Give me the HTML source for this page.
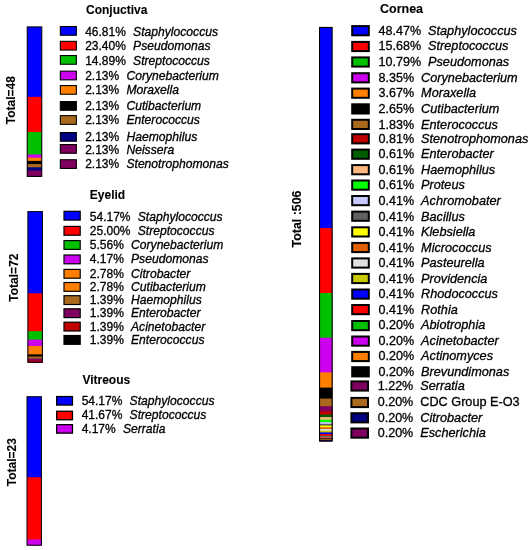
<!DOCTYPE html>
<html><head><meta charset="utf-8"><style>
html,body{margin:0;padding:0;background:#fff;}
svg{display:block;font-family:"Liberation Sans", Arial, sans-serif;filter:blur(0.35px);}
text{stroke:#000;stroke-width:0.3px;} text[font-weight=bold]{stroke-width:0.1px;}
</style></head><body>
<svg width="530" height="550" viewBox="0 0 530 550">
<rect width="530" height="550" fill="#fff"/>
<text x="86" y="14.0" font-size="12" font-weight="bold">Conjuctiva</text>
<rect x="27.20" y="26.90" width="14.60" height="149.50" fill="#0000ff"/>
<rect x="27.20" y="96.84" width="14.60" height="79.56" fill="#ff0000"/>
<rect x="27.20" y="132.06" width="14.60" height="44.34" fill="#00c000"/>
<rect x="27.20" y="154.46" width="14.60" height="21.94" fill="#cc00ee"/>
<rect x="27.20" y="157.67" width="14.60" height="18.73" fill="#ff8000"/>
<rect x="27.20" y="160.87" width="14.60" height="15.53" fill="#000000"/>
<rect x="27.20" y="164.08" width="14.60" height="12.32" fill="#aa6a1e"/>
<rect x="27.20" y="167.28" width="14.60" height="9.12" fill="#000080"/>
<rect x="27.20" y="170.49" width="14.60" height="5.91" fill="#800060"/>
<rect x="27.20" y="173.69" width="14.60" height="2.71" fill="#800060"/>
<rect x="27.20" y="26.90" width="14.60" height="149.50" fill="none" stroke="#000" stroke-width="1.0"/>
<text transform="translate(15,100.2) rotate(-90)" text-anchor="middle" font-size="12" font-weight="bold">Total=48</text>
<rect x="60.35" y="26.55" width="16.00" height="8.70" fill="#0000ff" stroke="#000" stroke-width="1.1"/>
<text x="85.20" y="35.50" font-size="12">46.81%<tspan dx="7.2" font-size="12.14" font-style="italic">Staphylococcus</tspan></text>
<rect x="60.35" y="41.35" width="16.00" height="8.70" fill="#ff0000" stroke="#000" stroke-width="1.1"/>
<text x="85.20" y="50.20" font-size="12">23.40%<tspan dx="7.2" font-size="12.14" font-style="italic">Pseudomonas</tspan></text>
<rect x="60.35" y="55.55" width="16.00" height="8.70" fill="#00c000" stroke="#000" stroke-width="1.1"/>
<text x="85.20" y="64.50" font-size="12">14.89%<tspan dx="7.2" font-size="12.14" font-style="italic">Streptococcus</tspan></text>
<rect x="60.35" y="71.15" width="16.00" height="8.70" fill="#cc00ee" stroke="#000" stroke-width="1.1"/>
<text x="85.20" y="80.00" font-size="12">2.13%<tspan dx="7.2" font-size="12.14" font-style="italic">Corynebacterium</tspan></text>
<rect x="60.35" y="85.55" width="16.00" height="8.70" fill="#ff8000" stroke="#000" stroke-width="1.1"/>
<text x="85.20" y="94.30" font-size="12">2.13%<tspan dx="7.2" font-size="12.14" font-style="italic">Moraxella</tspan></text>
<rect x="60.35" y="101.55" width="16.00" height="8.70" fill="#000000" stroke="#000" stroke-width="1.1"/>
<text x="85.20" y="110.10" font-size="12">2.13%<tspan dx="7.2" font-size="12.14" font-style="italic">Cutibacterium</tspan></text>
<rect x="60.35" y="115.65" width="16.00" height="8.70" fill="#aa6a1e" stroke="#000" stroke-width="1.1"/>
<text x="85.20" y="124.40" font-size="12">2.13%<tspan dx="7.2" font-size="12.14" font-style="italic">Enterococcus</tspan></text>
<rect x="60.35" y="132.55" width="16.00" height="8.70" fill="#000080" stroke="#000" stroke-width="1.1"/>
<text x="85.20" y="141.00" font-size="12">2.13%<tspan dx="7.2" font-size="12.14" font-style="italic">Haemophilus</tspan></text>
<rect x="60.35" y="144.55" width="16.00" height="8.70" fill="#800060" stroke="#000" stroke-width="1.1"/>
<text x="85.20" y="153.90" font-size="12">2.13%<tspan dx="7.2" font-size="12.14" font-style="italic">Neissera</tspan></text>
<rect x="60.35" y="159.75" width="16.00" height="8.70" fill="#800060" stroke="#000" stroke-width="1.1"/>
<text x="85.20" y="168.20" font-size="12">2.13%<tspan dx="7.2" font-size="12.14" font-style="italic">Stenotrophomonas</tspan></text>
<text x="89.8" y="198.7" font-size="12" font-weight="bold">Eyelid</text>
<rect x="27.90" y="211.60" width="14.50" height="150.70" fill="#0000ff"/>
<rect x="27.90" y="293.26" width="14.50" height="69.04" fill="#ff0000"/>
<rect x="27.90" y="331.18" width="14.50" height="31.12" fill="#00c000"/>
<rect x="27.90" y="339.61" width="14.50" height="22.69" fill="#cc00ee"/>
<rect x="27.90" y="345.93" width="14.50" height="16.37" fill="#ff8000"/>
<rect x="27.90" y="350.15" width="14.50" height="12.15" fill="#ff8000"/>
<rect x="27.90" y="354.37" width="14.50" height="7.93" fill="#000000"/>
<rect x="27.90" y="356.48" width="14.50" height="5.82" fill="#aa6a1e"/>
<rect x="27.90" y="358.58" width="14.50" height="3.72" fill="#800060"/>
<rect x="27.90" y="360.69" width="14.50" height="1.61" fill="#c00000"/>
<rect x="27.90" y="211.60" width="14.50" height="150.70" fill="none" stroke="#000" stroke-width="1.0"/>
<text transform="translate(18,277.6) rotate(-90)" text-anchor="middle" font-size="12" font-weight="bold">Total=72</text>
<rect x="64.00" y="211.30" width="16.20" height="8.80" fill="#0000ff" stroke="#000" stroke-width="1.2"/>
<text x="89.80" y="220.60" font-size="12">54.17%<tspan dx="7.2" font-size="12.14" font-style="italic">Staphylococcus</tspan></text>
<rect x="64.00" y="226.40" width="16.20" height="8.80" fill="#ff0000" stroke="#000" stroke-width="1.2"/>
<text x="89.80" y="234.70" font-size="12">25.00%<tspan dx="7.2" font-size="12.14" font-style="italic">Streptococcus</tspan></text>
<rect x="64.00" y="240.60" width="16.20" height="8.80" fill="#00c000" stroke="#000" stroke-width="1.2"/>
<text x="89.80" y="248.90" font-size="12">5.56%<tspan dx="7.2" font-size="12.14" font-style="italic">Corynebacterium</tspan></text>
<rect x="64.00" y="255.00" width="16.20" height="8.80" fill="#cc00ee" stroke="#000" stroke-width="1.2"/>
<text x="89.80" y="263.00" font-size="12">4.17%<tspan dx="7.2" font-size="12.14" font-style="italic">Pseudomonas</tspan></text>
<rect x="64.00" y="269.40" width="16.20" height="8.80" fill="#ff8000" stroke="#000" stroke-width="1.2"/>
<text x="89.80" y="277.50" font-size="12">2.78%<tspan dx="7.2" font-size="12.14" font-style="italic">Citrobacter</tspan></text>
<rect x="64.00" y="282.50" width="16.20" height="8.80" fill="#ff8000" stroke="#000" stroke-width="1.2"/>
<text x="89.80" y="290.80" font-size="12">2.78%<tspan dx="7.2" font-size="12.14" font-style="italic">Cutibacterium</tspan></text>
<rect x="64.00" y="295.70" width="16.20" height="8.80" fill="#aa6a1e" stroke="#000" stroke-width="1.2"/>
<text x="89.80" y="304.20" font-size="12">1.39%<tspan dx="7.2" font-size="12.14" font-style="italic">Haemophilus</tspan></text>
<rect x="64.00" y="308.80" width="16.20" height="8.80" fill="#800060" stroke="#000" stroke-width="1.2"/>
<text x="89.80" y="317.20" font-size="12">1.39%<tspan dx="7.2" font-size="12.14" font-style="italic">Enterobacter</tspan></text>
<rect x="64.00" y="322.20" width="16.20" height="8.80" fill="#c00000" stroke="#000" stroke-width="1.2"/>
<text x="89.80" y="330.50" font-size="12">1.39%<tspan dx="7.2" font-size="12.14" font-style="italic">Acinetobacter</tspan></text>
<rect x="64.00" y="335.50" width="16.20" height="8.80" fill="#000000" stroke="#000" stroke-width="1.2"/>
<text x="89.80" y="344.30" font-size="12">1.39%<tspan dx="7.2" font-size="12.14" font-style="italic">Enterococcus</tspan></text>
<text x="82.4" y="384.2" font-size="12" font-weight="bold">Vitreous</text>
<rect x="27.00" y="396.70" width="14.40" height="148.50" fill="#0000ff"/>
<rect x="27.00" y="477.18" width="14.40" height="68.02" fill="#ff0000"/>
<rect x="27.00" y="539.47" width="14.40" height="5.73" fill="#cc00ee"/>
<rect x="27.00" y="396.70" width="14.40" height="148.50" fill="none" stroke="#000" stroke-width="1.0"/>
<text transform="translate(16,462.2) rotate(-90)" text-anchor="middle" font-size="12" font-weight="bold">Total=23</text>
<rect x="56.65" y="396.55" width="15.80" height="8.50" fill="#0000ff" stroke="#000" stroke-width="1.3"/>
<text x="81.70" y="405.30" font-size="12">54.17%<tspan dx="7.2" font-size="12.14" font-style="italic">Staphylococcus</tspan></text>
<rect x="56.65" y="411.25" width="15.80" height="8.50" fill="#ff0000" stroke="#000" stroke-width="1.3"/>
<text x="81.70" y="419.30" font-size="12">41.67%<tspan dx="7.2" font-size="12.14" font-style="italic">Streptococcus</tspan></text>
<rect x="56.65" y="424.65" width="15.80" height="8.50" fill="#cc00ee" stroke="#000" stroke-width="1.3"/>
<text x="81.70" y="432.90" font-size="12">4.17%<tspan dx="7.2" font-size="12.14" font-style="italic">Serratia</tspan></text>
<text x="380" y="13.3" font-size="12.5" font-weight="bold">Cornea</text>
<rect x="319.55" y="27.45" width="12.60" height="413.60" fill="#0000ff"/>
<rect x="319.55" y="227.95" width="12.60" height="213.10" fill="#ff0000"/>
<rect x="319.55" y="292.98" width="12.60" height="148.07" fill="#00c000"/>
<rect x="319.55" y="337.74" width="12.60" height="103.31" fill="#cc00ee"/>
<rect x="319.55" y="372.37" width="12.60" height="68.68" fill="#ff8000"/>
<rect x="319.55" y="387.60" width="12.60" height="53.45" fill="#000000"/>
<rect x="319.55" y="398.59" width="12.60" height="42.46" fill="#aa6a1e"/>
<rect x="319.55" y="406.18" width="12.60" height="34.87" fill="#800060"/>
<rect x="319.55" y="411.24" width="12.60" height="29.81" fill="#c00000"/>
<rect x="319.55" y="414.60" width="12.60" height="26.45" fill="#006000"/>
<rect x="319.55" y="417.13" width="12.60" height="23.92" fill="#ffb880"/>
<rect x="319.55" y="419.66" width="12.60" height="21.39" fill="#00ff00"/>
<rect x="319.55" y="422.19" width="12.60" height="18.86" fill="#c8c8ff"/>
<rect x="319.55" y="423.89" width="12.60" height="17.16" fill="#606060"/>
<rect x="319.55" y="425.59" width="12.60" height="15.46" fill="#ffff00"/>
<rect x="319.55" y="427.29" width="12.60" height="13.76" fill="#e06000"/>
<rect x="319.55" y="428.99" width="12.60" height="12.06" fill="#e0e0e0"/>
<rect x="319.55" y="430.69" width="12.60" height="10.36" fill="#c8c800"/>
<rect x="319.55" y="432.39" width="12.60" height="8.66" fill="#0000ff"/>
<rect x="319.55" y="434.09" width="12.60" height="6.96" fill="#ff0000"/>
<rect x="319.55" y="435.79" width="12.60" height="5.26" fill="#00c000"/>
<rect x="319.55" y="436.62" width="12.60" height="4.43" fill="#cc00ee"/>
<rect x="319.55" y="437.45" width="12.60" height="3.60" fill="#ff8000"/>
<rect x="319.55" y="438.28" width="12.60" height="2.77" fill="#000000"/>
<rect x="319.55" y="439.11" width="12.60" height="1.94" fill="#aa6a1e"/>
<rect x="319.55" y="439.94" width="12.60" height="1.11" fill="#000080"/>
<rect x="319.55" y="440.77" width="12.60" height="0.28" fill="#800060"/>
<rect x="319.55" y="27.45" width="12.60" height="413.60" fill="none" stroke="#000" stroke-width="1.1"/>
<text transform="translate(301,219) rotate(-90)" text-anchor="middle" font-size="12.4" font-weight="bold">Total :506</text>
<rect x="352.20" y="26.10" width="16.60" height="9.20" fill="#0000ff" stroke="#000" stroke-width="2.0"/>
<text x="378.50" y="35.10" font-size="12.55">48.47%<tspan dx="7.0" font-size="12.70" font-style="italic">Staphylococcus</tspan></text>
<rect x="352.20" y="41.90" width="16.60" height="9.20" fill="#ff0000" stroke="#000" stroke-width="2.0"/>
<text x="378.50" y="50.40" font-size="12.55">15.68%<tspan dx="7.0" font-size="12.70" font-style="italic">Streptococcus</tspan></text>
<rect x="352.20" y="57.40" width="16.60" height="9.20" fill="#00c000" stroke="#000" stroke-width="2.0"/>
<text x="378.50" y="66.10" font-size="12.55">10.79%<tspan dx="7.0" font-size="12.70" font-style="italic">Pseudomonas</tspan></text>
<rect x="352.20" y="73.20" width="16.60" height="9.20" fill="#cc00ee" stroke="#000" stroke-width="2.0"/>
<text x="378.50" y="82.00" font-size="12.55">8.35%<tspan dx="7.0" font-size="12.70" font-style="italic">Corynebacterium</tspan></text>
<rect x="352.20" y="88.60" width="16.60" height="9.20" fill="#ff8000" stroke="#000" stroke-width="2.0"/>
<text x="378.50" y="97.20" font-size="12.55">3.67%<tspan dx="7.0" font-size="12.70" font-style="italic">Moraxella</tspan></text>
<rect x="352.20" y="104.30" width="16.60" height="9.20" fill="#000000" stroke="#000" stroke-width="2.0"/>
<text x="378.50" y="112.90" font-size="12.55">2.65%<tspan dx="7.0" font-size="12.70" font-style="italic">Cutibacterium</tspan></text>
<rect x="352.20" y="119.80" width="16.60" height="9.20" fill="#aa6a1e" stroke="#000" stroke-width="2.0"/>
<text x="378.50" y="128.70" font-size="12.55">1.83%<tspan dx="7.0" font-size="12.70" font-style="italic">Enterococcus</tspan></text>
<rect x="352.20" y="134.20" width="16.60" height="9.20" fill="#c00000" stroke="#000" stroke-width="2.0"/>
<text x="378.50" y="142.80" font-size="12.55">0.81%<tspan dx="7.0" font-size="12.70" font-style="italic">Stenotrophomonas</tspan></text>
<rect x="352.20" y="149.60" width="16.60" height="9.20" fill="#006000" stroke="#000" stroke-width="2.0"/>
<text x="378.50" y="158.10" font-size="12.55">0.61%<tspan dx="7.0" font-size="12.70" font-style="italic">Enterobacter</tspan></text>
<rect x="352.20" y="165.10" width="16.60" height="9.20" fill="#ffb880" stroke="#000" stroke-width="2.0"/>
<text x="378.50" y="174.00" font-size="12.55">0.61%<tspan dx="7.0" font-size="12.70" font-style="italic">Haemophilus</tspan></text>
<rect x="352.20" y="180.50" width="16.60" height="9.20" fill="#00ff00" stroke="#000" stroke-width="2.0"/>
<text x="378.50" y="189.20" font-size="12.55">0.61%<tspan dx="7.0" font-size="12.70" font-style="italic">Proteus</tspan></text>
<rect x="352.20" y="196.00" width="16.60" height="9.20" fill="#c8c8ff" stroke="#000" stroke-width="2.0"/>
<text x="378.50" y="204.90" font-size="12.55">0.41%<tspan dx="7.0" font-size="12.70" font-style="italic">Achromobater</tspan></text>
<rect x="352.20" y="211.60" width="16.60" height="9.20" fill="#606060" stroke="#000" stroke-width="2.0"/>
<text x="378.50" y="220.70" font-size="12.55">0.41%<tspan dx="7.0" font-size="12.70" font-style="italic">Bacillus</tspan></text>
<rect x="352.20" y="227.30" width="16.60" height="9.20" fill="#ffff00" stroke="#000" stroke-width="2.0"/>
<text x="378.50" y="236.00" font-size="12.55">0.41%<tspan dx="7.0" font-size="12.70" font-style="italic">Klebsiella</tspan></text>
<rect x="352.20" y="242.90" width="16.60" height="9.20" fill="#e06000" stroke="#000" stroke-width="2.0"/>
<text x="378.50" y="251.70" font-size="12.55">0.41%<tspan dx="7.0" font-size="12.70" font-style="italic">Micrococcus</tspan></text>
<rect x="352.20" y="258.40" width="16.60" height="9.20" fill="#e0e0e0" stroke="#000" stroke-width="2.0"/>
<text x="378.50" y="267.30" font-size="12.55">0.41%<tspan dx="7.0" font-size="12.70" font-style="italic">Pasteurella</tspan></text>
<rect x="352.20" y="273.90" width="16.60" height="9.20" fill="#c8c800" stroke="#000" stroke-width="2.0"/>
<text x="378.50" y="282.50" font-size="12.55">0.41%<tspan dx="7.0" font-size="12.70" font-style="italic">Providencia</tspan></text>
<rect x="352.20" y="289.50" width="16.60" height="9.20" fill="#0000ff" stroke="#000" stroke-width="2.0"/>
<text x="378.50" y="298.20" font-size="12.55">0.41%<tspan dx="7.0" font-size="12.70" font-style="italic">Rhodococcus</tspan></text>
<rect x="352.20" y="305.00" width="16.60" height="9.20" fill="#ff0000" stroke="#000" stroke-width="2.0"/>
<text x="378.50" y="314.10" font-size="12.55">0.41%<tspan dx="7.0" font-size="12.70" font-style="italic">Rothia</tspan></text>
<rect x="352.20" y="321.00" width="16.60" height="9.20" fill="#00c000" stroke="#000" stroke-width="2.0"/>
<text x="378.50" y="329.40" font-size="12.55">0.20%<tspan dx="7.0" font-size="12.70" font-style="italic">Abiotrophia</tspan></text>
<rect x="352.20" y="336.50" width="16.60" height="9.20" fill="#cc00ee" stroke="#000" stroke-width="2.0"/>
<text x="378.50" y="345.10" font-size="12.55">0.20%<tspan dx="7.0" font-size="12.70" font-style="italic">Acinetobacter</tspan></text>
<rect x="352.20" y="351.90" width="16.60" height="9.20" fill="#ff8000" stroke="#000" stroke-width="2.0"/>
<text x="378.50" y="360.10" font-size="12.55">0.20%<tspan dx="7.0" font-size="12.70" font-style="italic">Actinomyces</tspan></text>
<rect x="352.20" y="367.20" width="16.60" height="9.20" fill="#000000" stroke="#000" stroke-width="2.0"/>
<text x="378.50" y="376.10" font-size="12.55">0.20%<tspan dx="7.0" font-size="12.70" font-style="italic">Brevundimonas</tspan></text>
<rect x="351.40" y="381.40" width="16.60" height="9.20" fill="#800060" stroke="#000" stroke-width="2.0"/>
<text x="377.70" y="390.20" font-size="12.55">1.22%<tspan dx="7.0" font-size="12.70" font-style="italic">Serratia</tspan></text>
<rect x="351.40" y="397.90" width="16.60" height="9.20" fill="#aa6a1e" stroke="#000" stroke-width="2.0"/>
<text x="377.70" y="406.40" font-size="12.55">0.20%<tspan dx="7.0" font-size="12.70">CDC Group E-O3</tspan></text>
<rect x="351.40" y="413.20" width="16.60" height="9.20" fill="#000080" stroke="#000" stroke-width="2.0"/>
<text x="377.70" y="421.70" font-size="12.55">0.20%<tspan dx="7.0" font-size="12.70" font-style="italic">Citrobacter</tspan></text>
<rect x="351.40" y="428.50" width="16.60" height="9.20" fill="#800060" stroke="#000" stroke-width="2.0"/>
<text x="377.70" y="436.90" font-size="12.55">0.20%<tspan dx="7.0" font-size="12.70" font-style="italic">Escherichia</tspan></text>
</svg>
</body></html>
